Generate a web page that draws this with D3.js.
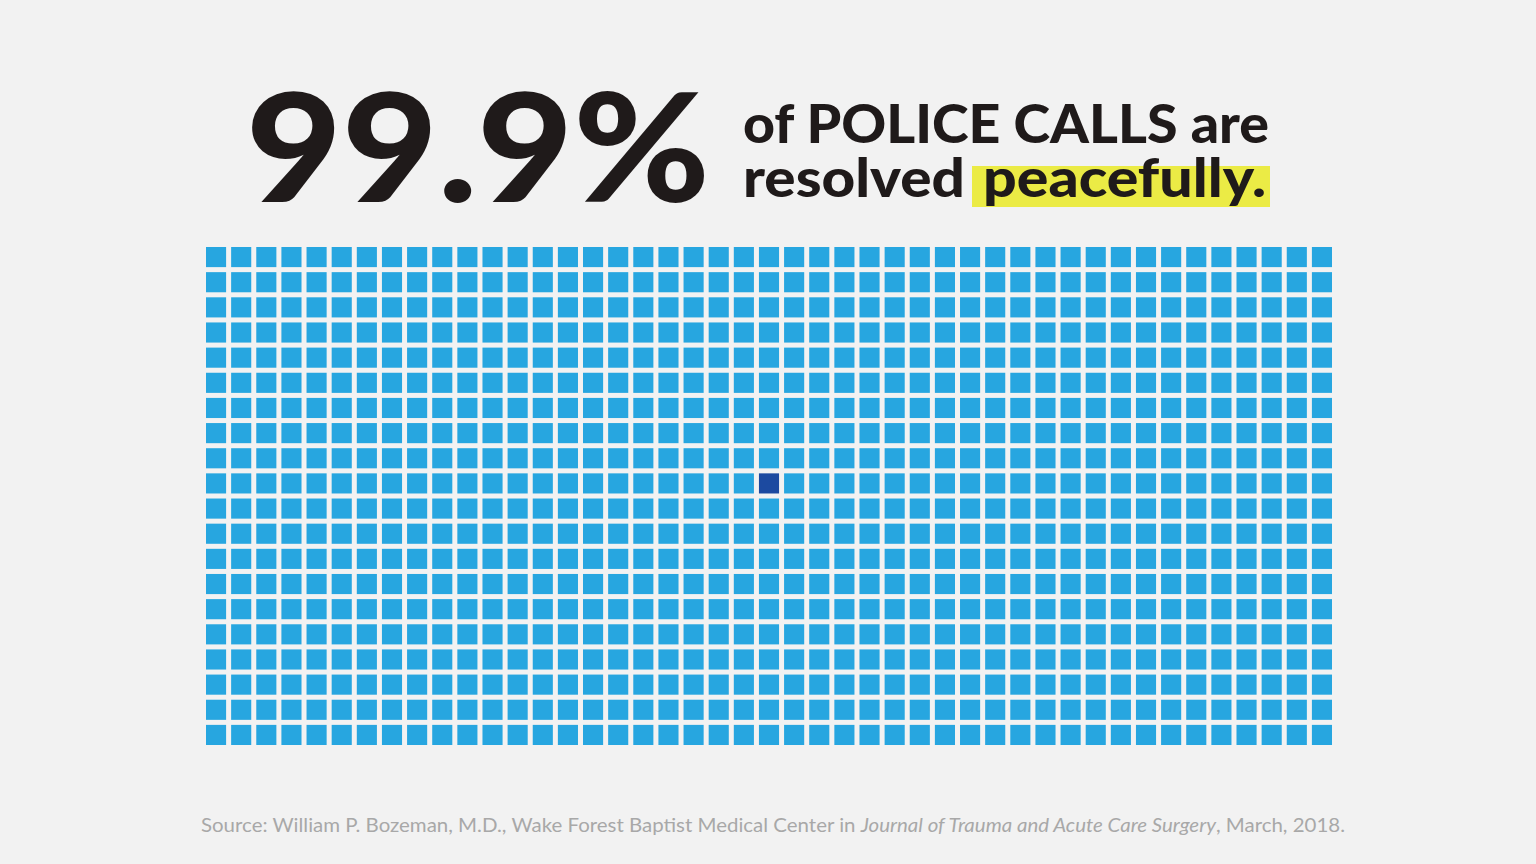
<!DOCTYPE html>
<html><head><meta charset="utf-8">
<script src="https://cdn.jsdelivr.net/npm/d3@7"></script>
<style>body{margin:0;background:#f2f2f2}svg{display:block}</style>
</head><body>
<script>
const nCols = 45;
const nRows = 20;
const highlightCells = [{row: 9, col: 22}];
const bigNumber = "99.9%";
const line1 = "of POLICE CALLS are";
const line2a = "resolved";
const line2b = "peacefully.";
const source = ["Source: William P. Bozeman, M.D., Wake Forest Baptist Medical Center in ", "Journal of Trauma and Acute Care Surgery", ", March, 2018."];

const W = 1536, H = 864;
const svg = d3.select("body").append("svg").attr("width", W).attr("height", H);
svg.append("rect").attr("width", W).attr("height", H).attr("fill", "#f2f2f2");

const cells = d3.range(nRows * nCols).map(i => ({row: Math.floor(i / nCols), col: i % nCols}));
const x = d3.scaleBand().domain(d3.range(nCols)).range([206, 1332]).paddingInner(0.2).paddingOuter(0);
const y = d3.scaleBand().domain(d3.range(nRows)).range([247, 745]).paddingInner(0.2).paddingOuter(0);
const isHi = d => highlightCells.some(h => h.row === d.row && h.col === d.col);
svg.append("g").selectAll("rect").data(cells).join("rect")
  .attr("x", d => x(d.col)).attr("y", d => y(d.row))
  .attr("width", x.bandwidth()).attr("height", y.bandwidth())
  .attr("fill", d => isHi(d) ? "#1c4aa0" : "#27a6e0");

const font = "Lato, 'DejaVu Sans', sans-serif";
svg.append("text").attr("x", 246).attr("y", 202).attr("font-family", font).attr("font-weight", 900)
  .attr("font-size", 150).attr("fill", "#1f1a1a").attr("textLength", 464).attr("lengthAdjust", "spacingAndGlyphs")
  .text(bigNumber);
svg.append("rect").attr("x", 972).attr("y", 166).attr("width", 298).attr("height", 41).attr("fill", "#ebeb45");
svg.append("text").attr("x", 743).attr("y", 143).attr("font-family", font).attr("font-weight", 900)
  .attr("font-size", 53).attr("fill", "#1f1a1a").attr("textLength", 526).attr("lengthAdjust", "spacingAndGlyphs")
  .text(line1);
const t2 = svg.append("text").attr("y", 197).attr("font-family", font).attr("font-weight", 900)
  .attr("font-size", 53).attr("fill", "#1f1a1a");
t2.append("tspan").attr("x", 743).attr("textLength", 222).attr("lengthAdjust", "spacingAndGlyphs").text(line2a);
t2.append("tspan").attr("x", 983).attr("textLength", 283).attr("lengthAdjust", "spacingAndGlyphs").text(line2b);

const s = svg.append("text").attr("x", 201).attr("y", 832).attr("font-family", font)
  .attr("font-size", 19).attr("fill", "#a8a8a8").attr("textLength", 1144).attr("lengthAdjust", "spacingAndGlyphs");
s.append("tspan").text(source[0]);
s.append("tspan").attr("font-style", "italic").text(source[1]);
s.append("tspan").text(source[2]);
</script>
</body></html>
